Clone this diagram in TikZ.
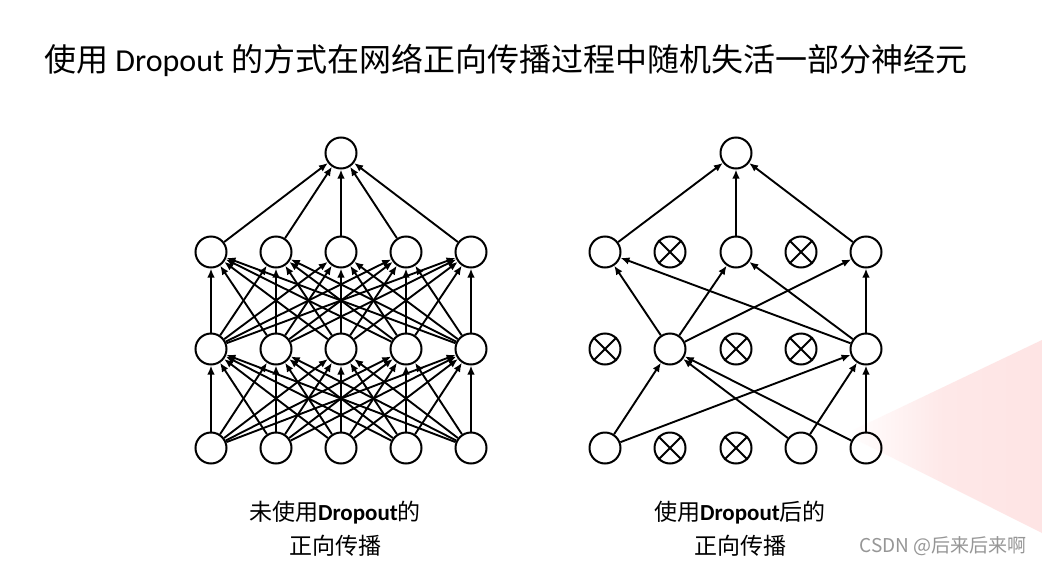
\documentclass[tikz,border=0pt]{standalone}
\usepackage{fontspec}
\setmainfont{Carlito}
\newfontfamily\cjk{Noto Sans CJK SC}
\usetikzlibrary{arrows.meta}
\definecolor{wm}{RGB}{150,150,150}
\definecolor{laser}{RGB}{254,228,228}
\begin{document}
\begin{tikzpicture}[x=1pt,y=-1pt,
  neuron/.style={circle,draw,line width=2pt,minimum size=31pt,inner sep=0pt},
  conn/.style={line width=1.9pt,-{Latex[length=9pt,width=7.5pt]}},
  xmark/.style={line width=1.9pt},
  titletext/.style={font=\fontsize{32}{32}\selectfont,anchor=west,inner sep=0pt},
  caption/.style={font=\fontsize{23}{34}\selectfont,align=center,inner sep=0pt},
  watermark/.style={font=\cjk\fontsize{19}{19}\selectfont,text=wm,anchor=east,inner sep=0pt}]
\useasboundingbox (0,0) rectangle (1042,565);
\fill[white] (0,0) rectangle (1042,565);
\shade[left color=white,right color=laser,middle color=laser!85!white] (845,434) -- (1042,340) -- (1042,533) -- cycle;

\node[titletext] (title) at (44,60) {{\cjk 使用} Dropout {\cjk 的方式在网络正向传播过程中随机失活一部分神经元}};

% left network
\foreach \i/\x in {0/211,1/276,2/341,3/406,4/471} {
  \node[neuron] (La\i) at (\x,448) {};
  \node[neuron] (Lb\i) at (\x,349) {};
  \node[neuron] (Lc\i) at (\x,252) {};
}
\node[neuron] (Lo) at (341,153) {};
\foreach \i in {0,...,4} {
  \foreach \j in {0,...,4} {
    \draw[conn] (La\i) -- (Lb\j);
    \draw[conn] (Lb\i) -- (Lc\j);
  }
  \draw[conn] (Lc\i) -- (Lo);
}

% right network
\foreach \i/\x in {0/605,1/670,2/736,3/801,4/866} {
  \node[neuron] (Ra\i) at (\x,448) {};
  \node[neuron] (Rb\i) at (\x,349) {};
  \node[neuron] (Rc\i) at (\x,252) {};
}
\node[neuron] (Ro) at (736,153) {};
\foreach \n in {Ra1,Ra2,Rb0,Rb2,Rb3,Rc1,Rc3}
  \draw[xmark] (\n.45) -- (\n.225) (\n.135) -- (\n.315);
\foreach \s in {Ra0,Ra3,Ra4} {
  \draw[conn] (\s) -- (Rb1);
  \draw[conn] (\s) -- (Rb4);
}
\foreach \s in {Rb1,Rb4} {
  \draw[conn] (\s) -- (Rc0);
  \draw[conn] (\s) -- (Rc2);
  \draw[conn] (\s) -- (Rc4);
}
\foreach \s in {Rc0,Rc2,Rc4}
  \draw[conn] (\s) -- (Ro);

% captions
\node[caption] (capL) at (335,529) {{\cjk 未使用}\textbf{Dropout}{\cjk 的}\\{\cjk 正向传播}};
\node[caption] (capR) at (740,529) {{\cjk 使用}\textbf{Dropout}{\cjk 后的}\\{\cjk 正向传播}};

\node[watermark] (wm) at (1027,546) {CSDN @后来后来啊};
\end{tikzpicture}
\end{document}
